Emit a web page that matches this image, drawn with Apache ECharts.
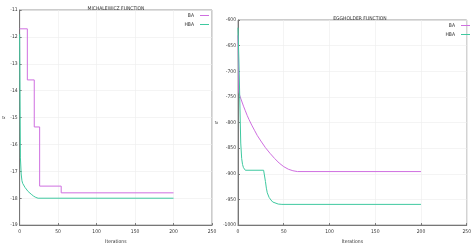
<!DOCTYPE html>
<html><head><meta charset="utf-8">
<script src="https://cdn.jsdelivr.net/npm/echarts@6/dist/echarts.min.js"></script>
<style>html,body{margin:0;padding:0;background:#fff}#c{width:474px;height:249px}</style>
</head><body><div id="c"></div>
<script>
// Michalewicz (left)
const michBaIter = [0, 10, 19, 26, 54, 200];
const michBaVal = [-11.7, -13.6, -15.35, -17.55, -17.8, -17.8];
const michHbaIter = [0, 1, 2, 3, 4, 5, 7, 9, 11, 13, 15, 18, 21, 24, 200];
const michHbaVal = [-11.9, -16.5, -17.1, -17.35, -17.45, -17.5, -17.6, -17.65, -17.75, -17.8, -17.85, -17.92, -17.97, -18.0, -18.0];
// Eggholder (right)
const eggBaIter = [0, 1, 2, 4, 6, 8, 10, 12, 15, 18, 21, 25, 30, 35, 40, 45, 50, 55, 60, 65, 200];
const eggBaVal = [-630, -740, -748, -758, -768, -777, -786, -794, -805, -815, -825, -836, -849, -860, -870, -879, -886, -891, -894, -895.6, -895.6];
const eggHbaIter = [0, 1, 2, 3, 4, 5, 6, 7, 8, 28, 29, 30, 31, 32, 34, 36, 38, 40, 44, 48, 200];
const eggHbaVal = [-615, -680, -760, -840, -870, -882, -888, -891, -893, -893, -895, -915, -928, -937, -946, -951, -955, -957, -959, -959.6, -959.6];
const xTicks = { min: 0, max: 250, interval: 50 };
const michY = { min: -19, max: -11, interval: 1 };
const eggY = { min: -1000, max: -600, interval: 50 };
const titles = ['MICHALEWICZ FUNCTION', 'EGGHOLDER FUNCTION'];
const seriesNames = ['BA', 'HBA'];

const BA_COLOR = '#cf6fe0', HBA_COLOR = '#3fc9a0';
const FONT = 'DejaVu Sans Condensed, DejaVu Sans, sans-serif';
const pairs = (xs, ys) => xs.map((x, i) => [x, ys[i]]);
const lbl = { fontSize: 5, color: '#333', fontFamily: FONT, margin: 4, showMinLabel: true, showMaxLabel: true, hideOverlap: false, formatter: v => String(v) };
function xAxis(gi) {
  return { type: 'value', gridIndex: gi, min: xTicks.min, max: xTicks.max, interval: xTicks.interval,
    name: 'Iterations', nameLocation: 'middle', nameGap: 11,
    nameTextStyle: { fontSize: 5, color: '#333', fontFamily: FONT },
    axisLine: { lineStyle: { color: '#777', width: 1 } },
    axisTick: { inside: true, length: 2, lineStyle: { color: '#777' } },
    axisLabel: lbl, splitLine: { show: true, lineStyle: { color: '#ececec', width: 0.6 } } };
}
function yAxis(gi, r) {
  return { type: 'value', gridIndex: gi, min: r.min, max: r.max, interval: r.interval,
    name: 'fx', nameLocation: 'middle', nameGap: gi === 0 ? 7 : 11, nameRotate: 0,
    nameTextStyle: { fontSize: 4, color: '#333', fontFamily: FONT },
    axisLine: { show: true, lineStyle: { color: '#777', width: 1 } },
    axisTick: { show: true, inside: true, length: 2, lineStyle: { color: '#777' } },
    axisLabel: Object.assign({}, lbl, { margin: 2, verticalAlign: 'middle' }),
    splitLine: { show: true, lineStyle: { color: '#ececec', width: 0.6 } } };
}
function line(name, data, gi, color, step) {
  return { type: 'line', name: name, xAxisIndex: gi, yAxisIndex: gi, data: data, step: step || false,
    showSymbol: false, symbol: 'none', smooth: false, color: color,
    lineStyle: { color: color, width: 1 }, animation: false };
}
const chart = echarts.init(document.getElementById('c'), null, { renderer: 'canvas' });
chart.setOption({
  animation: false,
  backgroundColor: '#fff',
  title: [
    { text: titles[0], left: 111, top: 1, textAlign: 'center', textStyle: { fontSize: 5, fontWeight: 'normal', color: '#333', fontFamily: FONT } },
    { text: titles[1], left: 355, top: 11, textAlign: 'center', textStyle: { fontSize: 5, fontWeight: 'normal', color: '#333', fontFamily: FONT } }
  ],
  legend: [
    { data: seriesNames, orient: 'vertical', right: 265, top: 13, align: 'right', itemWidth: 9, itemHeight: 1, itemGap: 4,
      textStyle: { fontSize: 5, color: '#333', fontFamily: FONT, padding: [0, 1, 0, 0] }, icon: 'rect', padding: 0 },
    { data: seriesNames, orient: 'vertical', right: 4, top: 23, align: 'right', itemWidth: 9, itemHeight: 1, itemGap: 4,
      textStyle: { fontSize: 5, color: '#333', fontFamily: FONT, padding: [0, 1, 0, 0] }, icon: 'rect', padding: 0 }
  ],
  grid: [
    { left: 10, top: 10, width: 202, height: 222, show: true, borderColor: '#999', borderWidth: 1, containLabel: false },
    { left: 238, top: 20, width: 234, height: 212, show: true, borderColor: '#999', borderWidth: 1, containLabel: false }
  ],
  xAxis: [xAxis(0), xAxis(1)],
  yAxis: [yAxis(0, michY), yAxis(1, eggY)],
  series: [
    line('BA', pairs(michBaIter, michBaVal), 0, BA_COLOR, 'end'),
    line('HBA', pairs(michHbaIter, michHbaVal), 0, HBA_COLOR),
    line('BA', pairs(eggBaIter, eggBaVal), 1, BA_COLOR),
    line('HBA', pairs(eggHbaIter, eggHbaVal), 1, HBA_COLOR)
  ]
});
</script></body></html>
